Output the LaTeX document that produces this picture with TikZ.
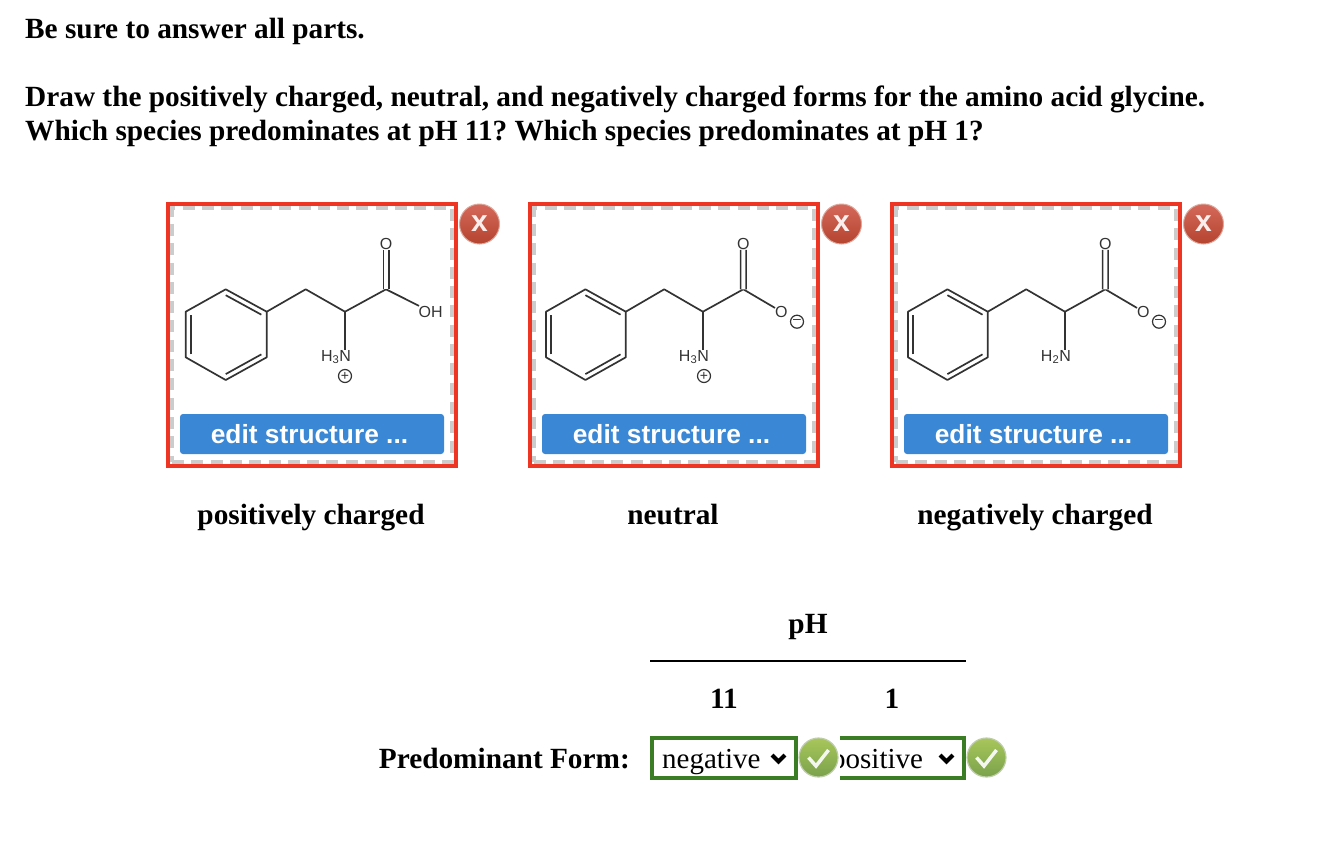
\documentclass[tikz,border=0pt]{standalone}
\usepackage{fontspec}
\setmainfont{Liberation Serif}
\setsansfont{Liberation Sans}
\usetikzlibrary{positioning,calc}
\frenchspacing

\definecolor{framered}{HTML}{EE3524}
\definecolor{dashgray}{HTML}{CCCCCC}
\definecolor{buttonblue}{HTML}{3A87D6}
\definecolor{selectgreen}{HTML}{3A7D25}
\definecolor{bondgray}{HTML}{333333}
\definecolor{closetop}{HTML}{D4685A}
\definecolor{closebottom}{HTML}{B5442F}
\definecolor{closeedge}{HTML}{DDA89C}
\definecolor{oktop}{HTML}{A8C65A}
\definecolor{okbottom}{HTML}{7AA24C}
\definecolor{okedge}{HTML}{BDCDA8}

\tikzset{
  heading/.style={anchor=base west, inner sep=0pt, font=\fontsize{29.3}{32}\selectfont\bfseries},
  boldtext/.style={inner sep=0pt, font=\fontsize{29.3}{32}\selectfont\bfseries},
  caption/.style={inner sep=0pt, text height=20pt, text depth=6pt, font=\fontsize{29.3}{32}\selectfont\bfseries},
  panelframe/.style={draw=framered, line width=4pt, minimum width=288pt, minimum height=262pt, inner sep=0pt},
  paneldash/.style={draw=dashgray, line width=4pt, dash pattern=on 12pt off 7.3pt, minimum width=280pt, minimum height=254pt, inner sep=0pt},
  editbutton/.style={fill=buttonblue, rounded corners=3pt, minimum width=264pt, minimum height=40pt, inner sep=0pt,
    text=white, font=\fontsize{26.3}{32}\selectfont\sffamily\bfseries},
  closebutton/.style={circle, draw=closeedge, line width=1pt, top color=closetop, bottom color=closebottom,
    minimum size=40pt, inner sep=0pt, text=white, text opacity=.9, font=\fontsize{30}{30}\selectfont\sffamily\bfseries},
  okmark/.style={circle, draw=okedge, line width=1.2pt, top color=oktop, bottom color=okbottom,
    minimum size=39pt, inner sep=0pt},
  bond/.style={draw=bondgray, line width=1.7pt},
  atom/.style={inner sep=0pt, text=bondgray, font=\fontsize{16}{16}\selectfont\sffamily},
  chargemark/.style={circle, draw=bondgray, line width=1.2pt, minimum size=13pt, inner sep=0pt, text=bondgray, font=\fontsize{14}{14}\selectfont\sffamily},
  selecttext/.style={anchor=base west, inner sep=0pt, font=\fontsize{29}{32}\selectfont},
  selectline/.style={draw=selectgreen, line width=4pt},
  chevron/.style={draw=black, line width=4pt},
}

\begin{document}
\begin{tikzpicture}[x=1pt, y=-1pt]
  \useasboundingbox (0,0) rectangle (1322,844);

  \node[heading] (partsline) at (25,38.5) {Be sure to answer all parts.};
  \node[heading] (drawline) at (25,106) {Draw the positively charged, neutral, and negatively charged forms for the amino acid glycine.};
  \node[heading] (whichline) at (25,140) {Which species predominates at pH 11? Which species predominates at pH 1?};

  \foreach \p/\cx/\label/\px/\sx/\amine/\acid/\ox in {
      1/312/positively charged/185.7/1/H\textsubscript{3}N/OH/245,
      2/674/neutral/546/.985/H\textsubscript{3}N/O/239,
      3/1036/negatively charged/908/.985/H\textsubscript{2}N/O/239} {
    \node[panelframe] (panel\p) at (\cx,335) {};
    \node[paneldash] (dash\p) at (\cx,335) {};
    \node[editbutton] (edit\p) at (\cx,434) {edit structure ...\hspace*{5pt}};
    \node[closebutton] (close\p) at (\cx+167.5,224) {x};
    \node[caption, below=36pt of panel\p, xshift=-1pt] (name\p) {\label};

    \begin{scope}[shift={(\px,0)}, xscale=\sx]
      \coordinate (ringc) at (40,334.6);
      \coordinate (r1) at (40,289.3);
      \coordinate (r2) at (81,311.7);
      \coordinate (r3) at (81,357.3);
      \coordinate (r4) at (40,380);
      \coordinate (r5) at (0,357.3);
      \coordinate (r6) at (0,311.7);
      \coordinate (ch2) at (120,289.3);
      \coordinate (ch) at (159.3,311.7);
      \coordinate (co) at (200.3,289.3);
      \node[atom] (oxo\p) at (200.3,244) {O};
      \node[atom] (acid\p) at (\ox,311.7) {\acid};
      \node[atom, anchor=east] (amine\p) at (165.5,357) {\amine};

      \draw[bond, line join=round] (r1) -- (r2) -- (r3) -- (r4) -- (r5) -- (r6) -- cycle;
      \draw[bond] ($(ringc)!.87!(r1)$) -- ($(ringc)!.87!(r2)$);
      \draw[bond] ($(ringc)!.87!(r3)$) -- ($(ringc)!.87!(r4)$);
      \draw[bond] ($(ringc)!.87!(r5)$) -- ($(ringc)!.87!(r6)$);
      \draw[bond, line join=round] (r2) -- (ch2) -- (ch) -- (co) -- (acid\p);
      \draw[bond] (ch) -- (ch |- amine\p.north);
      \draw[bond, double=white, double distance=4pt, line width=1.5pt] (co) -- (oxo\p);
    \end{scope}
  }

  \node[chargemark] (plus1) at (345,376) {+};
  \node[chargemark] (plus2) at (704,376) {+};
  \node[chargemark] (minus2) at (797,321.7) {\raisebox{.6pt}{--}};
  \node[chargemark] (minus3) at (1159,321.7) {\raisebox{.6pt}{--}};

  \node[boldtext, anchor=base] (phhead) at (808,633) {pH};
  \coordinate (ruleleft) at (650,661);
  \coordinate (ruleright) at (966,661);
  \draw[line width=1.5pt] (ruleleft) -- (ruleright);
  \node[boldtext, anchor=base] (ph11) at (724,708) {11};
  \node[boldtext, anchor=base] (ph1) at (892,708) {1};
  \node[boldtext, anchor=base east] (formlabel) at (630,768) {Predominant Form:};

  \node[selectline, minimum width=144pt, minimum height=40pt, inner sep=0pt] (select11) at (724,758) {};
  \node[selecttext] (neg) at (662,768) {negative};
  \draw[chevron] (772,755) -- (778.5,761.5) -- (785,755);

  \draw[selectline] (840,738) -- (964,738) -- (964,778) -- (840,778);
  \begin{scope}
    \clip (840,736) rectangle (962,780);
    \node[selecttext] (pos) at (831,768) {positive};
  \end{scope}
  \draw[chevron] (940,755) -- (946.5,761.5) -- (953,755);

  \node[okmark] (ok11) at (818.5,757.5) {};
  \node[okmark] (ok1) at (986.5,757.5) {};
  \foreach \cx in {818.5,986.5}
    \draw[white, opacity=.9, line width=3.5pt] (\cx-10,757.5) -- (\cx-2.5,766) -- (\cx+10,750);
\end{tikzpicture}
\end{document}
